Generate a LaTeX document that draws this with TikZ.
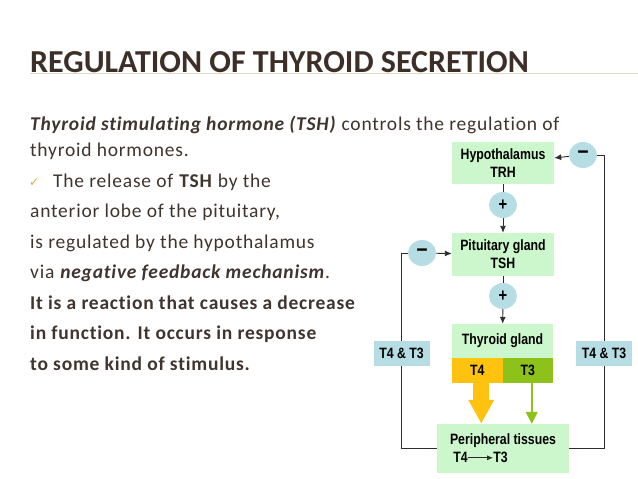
\documentclass[tikz,border=0pt]{standalone}
\usepackage{fontspec}
\setmainfont{Carlito}
\newfontfamily\bodyfont[LetterSpace=4, Ligatures=NoCommon]{Carlito}
\newfontfamily\diagfont[FakeStretch=0.82]{Liberation Sans}
\newfontfamily\symfont{DejaVu Sans}
\usetikzlibrary{arrows.meta, positioning, shapes.geometric, backgrounds}
\definecolor{titlebrown}{RGB}{61,47,40}
\definecolor{textbrown}{RGB}{64,52,46}
\definecolor{rulebeige}{RGB}{226,214,196}
\definecolor{boxgreen}{RGB}{204,247,204}
\definecolor{signblue}{RGB}{183,221,228}
\definecolor{tfourorange}{RGB}{255,194,14}
\definecolor{tthreegreen}{RGB}{140,194,26}
\definecolor{checktan}{RGB}{226,166,70}
\definecolor{linegray}{RGB}{45,45,45}

\begin{document}
\begin{tikzpicture}[x=1pt, y=-1pt,
    body/.style={anchor=base west, inner sep=0pt, text=textbrown, font=\bodyfont\fontsize{19.5}{23}\selectfont},
    gland/.style={fill=boxgreen, inner sep=0pt, align=center, font=\diagfont\bfseries\fontsize{15}{18}\selectfont},
    sign/.style={ellipse, fill=signblue, minimum width=28pt, minimum height=26pt, inner sep=0pt, font=\diagfont\bfseries\fontsize{18}{18}\selectfont},
    hormone/.style={fill=signblue, minimum width=56pt, minimum height=25pt, inner sep=0pt, font=\diagfont\bfseries\fontsize{15}{18}\selectfont},
    lbl/.style={inner sep=0pt, font=\diagfont\bfseries\fontsize{15}{18}\selectfont},
    feed/.style={draw=linegray, line width=0.9pt},
    tip/.style={-{Latex[length=7pt,width=6pt]}}]
  \begin{scope}[on background layer]
    \fill[white] (0,0) rectangle (638,479);
  \end{scope}
  \useasboundingbox (0,0) rectangle (638,479);

  % title
  \node[anchor=base west, inner sep=0pt, text=titlebrown, font=\bfseries\fontsize{32}{38}\selectfont] (title) at (30,72.3) {REGULATION OF THYROID SECRETION};

  % text
  \node[body] (line1) at (30,130.7) {\textbf{\textit{Thyroid stimulating hormone (TSH)}} controls the regulation of};
  \node[body] (line2) at (30,156.7) {thyroid hormones.};
  \node[body, text=checktan, font=\symfont\fontsize{12}{14}\selectfont] (check) at (29,186) {✓};
  \node[body] (line3) at (53,187.3) {The release of \textbf{TSH} by the};
  \node[body] (line4) at (30,217.8) {anterior lobe of the pituitary,};
  \node[body] (line5) at (30,248.3) {is regulated by the hypothalamus};
  \node[body] (line6) at (30,278.8) {via \textbf{\textit{negative feedback mechanism}}.};
  \node[body, font=\bodyfont\bfseries\fontsize{19.5}{23}\selectfont] (line7) at (30,309.3) {It is a reaction that causes a decrease};
  \node[body, font=\bodyfont\bfseries\fontsize{19.5}{23}\selectfont] (line8) at (30,339.8) {in function. It occurs in response};
  \node[body, font=\bodyfont\bfseries\fontsize{19.5}{23}\selectfont] (line9) at (30,370.3) {to some kind of stimulus.};

  % glands
  \node[gland, minimum width=102pt, minimum height=42pt] (hyp) at (503,163) {Hypothalamus\\TRH};
  \node[gland, minimum width=102pt, minimum height=43pt] (pit) at (503,254.5) {Pituitary gland\\TSH};
  \node[gland, minimum width=101pt, minimum height=34pt] (thy) at (502.5,341) {Thyroid gland};
  \node[lbl, fill=tfourorange, minimum width=50.5pt, minimum height=24.5pt, anchor=north west] (t4) at (thy.south west) {T4};
  \node[lbl, fill=tthreegreen, minimum width=50.5pt, minimum height=24.5pt, anchor=north east] (t3) at (thy.south east) {T3};
  \node[gland, minimum width=132pt, minimum height=49pt] (per) at (503,448.5) {};
  \node[lbl] (pername) at (503,440.5) {Peripheral tissues};
  \node[lbl] (pt4) at (460.5,457.8) {T4};
  \node[lbl] (pt3) at (500.5,457.8) {T3};
  \draw[feed, -{Latex[length=6pt,width=5pt]}] (pt4) -- (pt3);

  % signs
  \node[sign] (plus1) at (503,205) {+};
  \node[sign] (plus2) at (503,296) {+};
  \node[sign, font=\diagfont\bfseries\fontsize{24}{24}\selectfont] (minusR) at (583,155) {–};
  \node[sign, font=\diagfont\bfseries\fontsize{24}{24}\selectfont] (minusL) at (422,253) {–};

  % hormones back
  \node[hormone] (labL) at (401.5,353.5) {T4 \& T3};
  \node[hormone] (labR) at (604,353.5) {T4 \& T3};

  % stimulation
  \draw[feed] (hyp) -- (plus1);
  \draw[feed, tip] (plus1) -- (pit);
  \draw[feed] (pit) -- (plus2);
  \draw[feed, tip] (plus2) -- (thy);

  % secretion
  \coordinate (t4out) at ([xshift=4pt]t4.south);
  \coordinate (t3out) at ([xshift=4pt]t3.south);
  \draw[draw=tfourorange, line width=16pt, -{Triangle[width=24pt,length=24pt]}] (t4out) -- (t4out |- per.north);
  \draw[draw=tthreegreen, line width=1.5pt, -{Triangle[width=12pt,length=12pt]}] (t3out) -- (t3out |- per.north);

  % feedback
  \begin{scope}[on background layer]
    \draw[rulebeige, line width=1pt] (title.base west) ++(0,1.5) -- (638,73.8);
    \draw[feed] (per.west) -| (labL.south);
    \draw[feed] (labL.north) |- (minusL.west);
    \draw[feed] (per.east) -| (labR.south);
    \draw[feed] (labR.north) |- (minusR.east);
  \end{scope}
  \draw[feed, tip] (minusL) -- (pit);
  \draw[feed, tip] (minusR) -- (hyp);
\end{tikzpicture}
\end{document}
